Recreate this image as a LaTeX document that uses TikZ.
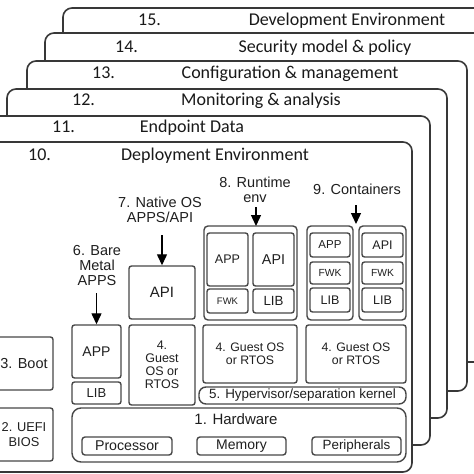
\documentclass[tikz,border=0pt]{standalone}
\usepackage{fontspec}
\newfontfamily\titlefont{Carlito}
\newfontfamily\innerfont{Liberation Sans}
\usetikzlibrary{arrows.meta}
\tikzset{
  card/.style={draw=black!78, line width=1.6pt, fill=white, rounded corners=9pt},
  ttl/.style={font=\titlefont\fontsize{18}{20}\selectfont, text=black!90, anchor=base, inner sep=0pt},
  num/.style={ttl, anchor=base west},
  bx/.style={draw=black!72, line width=1.4pt, fill=white, rounded corners=2.5pt, inner sep=0pt,
    align=center, text=black!88, font=\innerfont\fontsize{13.5}{14}\selectfont},
  grp/.style={bx, rounded corners=4pt},
  sz/.style 2 args={minimum width=#1pt, minimum height=#2pt},
  fs/.style 2 args={font=\innerfont\fontsize{#1}{#2}\selectfont},
  lbl/.style={font=\innerfont\fontsize{14.5}{15}\selectfont, align=center, text=black!88, inner sep=0pt},
  arr/.style={line width=1.3pt, draw=black, -{Triangle[length=11pt,width=10pt]}},
}
\begin{document}
\begin{tikzpicture}[x=1pt,y=-1pt]
\useasboundingbox (0,0) rectangle (474,474);
\clip (0,0) rectangle (474,474);
\fill[white] (0,0) rectangle (474,474);
% stacked cards, back to front
\draw[card] (63,8) rectangle (507,335);
\node[num] (n15) at (138,25) {15.};
\node[ttl] (t15) at (347,25) {Development Environment};
\draw[card] (45,33) rectangle (487,362);
\node[num] (n14) at (115,52) {14.};
\node[ttl] (t14) at (325,52) {Security model \& policy};
\draw[card] (27,61) rectangle (467,391);
\node[num] (n13) at (92,78) {13.};
\node[ttl] (t13) at (290,78) {Configuration \& management};
\draw[card] (7,89) rectangle (447,418);
\node[num] (n12) at (72,105) {12.};
\node[ttl] (t12) at (261,105) {Monitoring \& analysis};
\draw[card] (-12,116) rectangle (430,445);
\node[num] (n11) at (52,132) {11.};
\node[ttl] (t11) at (192,132) {Endpoint Data};
\draw[card] (-30,142) rectangle (412,472);
\node[num] (n10) at (28,160) {10.};
\node[ttl] (t10) at (215,160) {Deployment Environment};

% boot / bios
\node[bx, sz={58}{53}, fs={14.5}{15}] (boot) at (24,363.5) {3. Boot};
\node[bx, sz={58}{53}, fs={12.8}{15}] (uefi) at (24,434.5) {2. UEFI\\BIOS};

% bare metal
\node[lbl] (bmlbl) at (97,266) {6. Bare\\Metal\\APPS};
\node[bx, sz={49}{53}, fs={14}{15}] (bmapp) at (96.5,351.5) {APP};
\node[bx, sz={49}{22}, fs={13}{14}] (bmlib) at (96.5,393) {LIB};
\coordinate (bmarr) at (96.5,293);
\draw[arr] (bmarr) -- (bmapp.north);

% native OS
\node[lbl] (nlbl) at (160,210) {7. Native OS\\APPS/API};
\node[bx, sz={66}{53}, fs={15}{15}] (napi) at (162,292.5) {API};
\node[bx, sz={66}{80}, fs={12.5}{13}] (gos1) at (162,365) {4.\\Guest\\OS or\\RTOS};
\coordinate (narr) at (162,235);
\draw[arr] (narr) -- (napi.north);

% runtime env
\node[lbl] (rtlbl) at (255,190) {8. Runtime\\env};
\node[grp, sz={93}{94}] (rt) at (250.5,273) {};
\node[bx, sz={41}{53}, fs={12.5}{14}] (rtapp) at (227.5,259.5) {APP};
\node[bx, sz={41}{53}, fs={14.3}{14}] (rtapi) at (273.5,259.5) {API};
\node[bx, sz={41}{24}, fs={9.5}{10}] (rtfwk) at (227.5,301) {FWK};
\node[bx, sz={41}{24}, fs={13.3}{14}] (rtlib) at (273.5,301) {LIB};
\coordinate (rtarr) at (256,207);
\coordinate (rttop) at (256,226);
\draw[arr] (rtarr) -- (rttop);

% containers
\node[lbl] (clbl) at (357,189) {9. Containers};
\node[grp, sz={46}{94}] (c1) at (330,273) {};
\node[bx, sz={40}{24}, fs={11.5}{12}] (c1app) at (330,245) {APP};
\node[bx, sz={40}{22}, fs={10.3}{11}] (c1fwk) at (330,273) {FWK};
\node[bx, sz={40}{24}, fs={12.5}{13}] (c1lib) at (330,300) {LIB};
\node[grp, sz={47}{94}] (c2) at (382.5,273) {};
\node[bx, sz={41}{24}, fs={12.5}{12}] (c2api) at (382.5,245) {API};
\node[bx, sz={41}{22}, fs={10.3}{11}] (c2fwk) at (382.5,273) {FWK};
\node[bx, sz={41}{24}, fs={12.5}{13}] (c2lib) at (382.5,300) {LIB};
\coordinate (carr) at (356,205);
\coordinate (ctop) at (356,224);
\draw[arr] (carr) -- (ctop);

% guest OS boxes
\node[bx, sz={94}{58}, fs={12.3}{12.5}] (gos2) at (250,354) {4. Guest OS\\or RTOS};
\node[bx, sz={100}{58}, fs={12.3}{12.5}] (gos3) at (356,354) {4. Guest OS\\or RTOS};

% hypervisor
\node[bx, rounded corners=7pt, sz={207}{17}, fs={13.4}{14}] (hyp) at (302.5,395.5) {5. Hypervisor/separation kernel};

% hardware
\node[bx, rounded corners=9pt, sz={334}{54}] (hw) at (239,435) {};
\node[lbl, fs={15}{15}] (hwlbl) at (236,419) {1. Hardware};
\node[bx, rounded corners=3pt, sz={90}{18}, fs={14.2}{14}] (proc) at (127,446) {Processor};
\node[bx, rounded corners=3pt, sz={89}{18}, fs={14}{14}] (mem) at (241.5,446) {Memory};
\node[bx, rounded corners=3pt, sz={89}{18}, fs={13.4}{14}] (peri) at (356.5,446) {Peripherals};
\end{tikzpicture}
\end{document}
